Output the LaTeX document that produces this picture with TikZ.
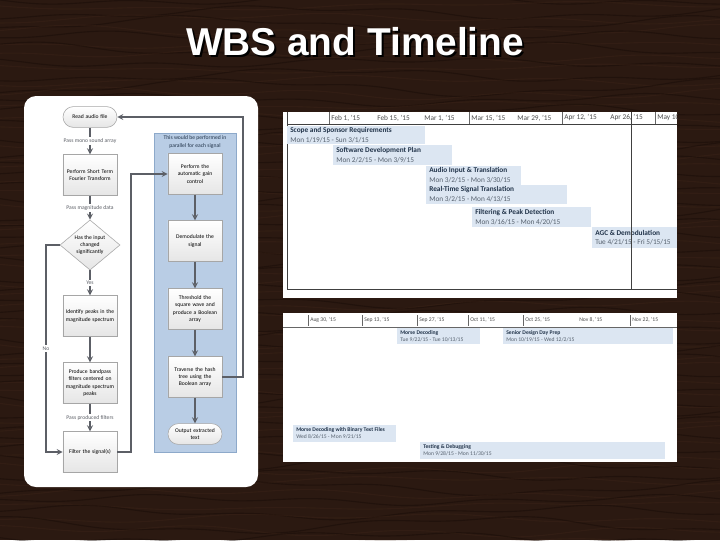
\documentclass[tikz,border=0pt]{standalone}
\usepackage{fontspec}
\setmainfont{Carlito}
\newfontfamily\titlefont{Liberation Sans}
\usetikzlibrary{shapes.geometric}

\definecolor{woodbase}{HTML}{2B1911}
\definecolor{wooddark}{HTML}{160B06}
\definecolor{woodlight}{HTML}{43291B}
\definecolor{panelblue}{HTML}{B9CDE5}
\definecolor{paneledge}{HTML}{8DA9CA}
\definecolor{barblue}{HTML}{DCE6F2}
\definecolor{bartitle}{HTML}{22344A}
\definecolor{bardate}{HTML}{56616E}
\definecolor{flowline}{HTML}{5C5F66}

\newcommand{\flowfont}{\fontsize{4}{5.2}\selectfont}
\newcommand{\ganttfont}{\fontsize{5.2}{7}\selectfont}
\newcommand{\ganttsmall}{\fontsize{4}{4.9}\selectfont}

\begin{document}
\begin{tikzpicture}[x=0.025cm, y=-0.025cm, >=stealth]
  % Styles du diagramme
  \tikzset{
    grain/.style={line width=0.8pt},
    proc/.style={rectangle, draw=black!35, top color=white, bottom color=black!10,
      minimum width=1.35cm, minimum height=1.02cm, text width=1.3cm,
      align=center, inner sep=0.5pt, font=\flowfont},
    term/.style={proc, rounded corners=0.26cm, minimum height=0.52cm},
    dec/.style={diamond, draw=black!35, top color=white, bottom color=black!10,
      minimum width=1.5cm, minimum height=1.2cm, inner sep=0pt,
      align=center, font=\flowfont},
    flow/.style={->, flowline, line width=0.9pt},
    lbl/.style={fill=white, inner sep=1pt, font=\flowfont},
    bar/.style={fill=barblue},
    bartxt/.style={anchor=west, align=left, inner sep=0pt, font=\ganttfont, text=bartitle},
    bartxtsm/.style={bartxt, font=\ganttsmall},
    gdate/.style={anchor=west, inner sep=0pt, font=\ganttfont, text=black!70},
    gdatesm/.style={gdate, font=\ganttsmall},
    gtick/.style={black!60, line width=0.4pt}
  }

  \useasboundingbox (0,0) rectangle (720,540);

  % --- Fond bois ---
  \fill[woodbase] (0,0) rectangle (720,540);
  \begin{scope}
    \clip (0,0) rectangle (720,540);
    \foreach \k in {0,...,44} {
      \pgfmathsetmacro{\yy}{\k*12.5}
      \pgfmathsetmacro{\ph}{mod(\k*67,360)}
      \pgfmathsetmacro{\amp}{3+mod(\k*7,5)}
      \draw[grain, wooddark, opacity=0.45] plot[domain=0:720, samples=37, smooth]
        (\x, {\yy + \amp*sin(0.7*\x+\ph) + 2.5*sin(2.1*\x+2*\ph)});
      \draw[grain, woodlight, opacity=0.3] plot[domain=0:720, samples=37, smooth]
        (\x, {\yy + 6 + 3*sin(0.5*\x+2*\ph) + \amp*0.5*sin(1.7*\x+\ph)});
    }
  \end{scope}

  % Titre
  \node[text=black, font=\titlefont\bfseries\fontsize{27.6}{30}\selectfont] (titleshadow) at (357,44) {WBS and Timeline};
  \node[text=white, font=\titlefont\bfseries\fontsize{27.6}{30}\selectfont] (title) at (355,42) {WBS and Timeline};

  % --- Organigramme ---
  \fill[white, rounded corners=0.3cm] (24,96) rectangle (258,487);
  \fill[panelblue, draw=paneledge, line width=0.6pt] (154,133) rectangle (236,452);
  \node[font=\flowfont, align=center, inner sep=0pt, text=bartitle] (paneltxt) at (195,142)
    {This would be performed in\\parallel for each signal};

  % Colonne principale
  \node[term] (read) at (90,117) {Read audio file};
  \node[proc] (stft) at (90,175) {Perform Short Term\\Fourier Transform};
  \node[dec] (change) at (90,245) {Has the input\\changed\\significantly};
  \node[proc] (peaks) at (90,316) {Identify peaks in the\\magnitude spectrum};
  \node[proc] (bandpass) at (90,383) {Produce bandpass\\filters centered on\\magnitude spectrum\\peaks};
  \node[proc] (filter) at (90,452) {Filter the signal(s)};

  % Colonne en parallèle
  \node[proc] (agc) at (195,174) {Perform the\\automatic gain\\control};
  \node[proc] (demod) at (195,241) {Demodulate the\\signal};
  \node[proc] (thresh) at (195,309) {Threshold the\\square wave and\\produce a Boolean\\array};
  \node[proc] (traverse) at (195,377) {Traverse the hash\\tree using the\\Boolean array};
  \node[term] (output) at (195,434) {Output extracted\\text};

  % Connecteurs
  \draw[flow] (read) -- node[lbl] {Pass mono sound array} (stft);
  \draw[flow] (stft) -- node[lbl] {Pass magnitude data} (change);
  \draw[flow] (change) -- node[lbl] {Yes} (peaks);
  \draw[flow] (peaks) -- (bandpass);
  \draw[flow] (bandpass) -- node[lbl] {Pass produced filters} (filter);

  \coordinate (nobend) at (46,452);
  \draw[flow] (change.west) -| (nobend) node[lbl, pos=0.75] {No} -- (filter.west);

  \coordinate (fwdbend) at (131,174);
  \draw[flow] (filter.east) -| (fwdbend) -- (agc.west);

  \draw[flow] (agc) -- (demod);
  \draw[flow] (demod) -- (thresh);
  \draw[flow] (thresh) -- (traverse);
  \draw[flow] (traverse) -- (output);

  \coordinate (backbend) at (243,117);
  \draw[flow] (traverse.east) -| (backbend) -- (read.east);

  % --- Diagramme de Gantt 1 ---
  \fill[white] (283,112) rectangle (677,298);
  \begin{scope}
    \clip (283,112) rectangle (677,298);
    \draw[black!75, line width=0.5pt] (287,124) -- (677,124);
    \draw[black!75, line width=0.5pt] (287,112) -- (287,289) -- (677,289);
    \foreach \tx in {329,469,562,655}
      \draw[gtick] (\tx,112) -- (\tx,124);

    \node[gdate] (d1) at (331,118) {Feb 1, '15};
    \node[gdate] (d2) at (377,118) {Feb 15, '15};
    \node[gdate] (d3) at (424,118) {Mar 1, '15};
    \node[gdate] (d4) at (471,118) {Mar 15, '15};
    \node[gdate] (d5) at (517,118) {Mar 29, '15};
    \node[gdate] (d6) at (564,118) {Apr 12, '15};
    \node[gdate] (d7) at (610,118) {Apr 26, '15};
    \node[gdate] (d8) at (657,118) {May 10, '15};

    \fill[bar] (287,126) rectangle (425,144);
    \node[bartxt] (scope) at (290,135) {\textbf{Scope and Sponsor Requirements}\\\textcolor{bardate}{Mon 1/19/15 - Sun 3/1/15}};
    \fill[bar] (333,145) rectangle (452,165);
    \node[bartxt] (plan) at (336,155) {\textbf{Software Development Plan}\\\textcolor{bardate}{Mon 2/2/15 - Mon 3/9/15}};
    \fill[bar] (426,166) rectangle (521,185);
    \node[bartxt] (audio) at (429,175.5) {\textbf{Audio Input \& Translation}\\\textcolor{bardate}{Mon 3/2/15 - Mon 3/30/15}};
    \fill[bar] (426,185) rectangle (567,204);
    \node[bartxt] (realtime) at (429,194.5) {\textbf{Real-Time Signal Translation}\\\textcolor{bardate}{Mon 3/2/15 - Mon 4/13/15}};
    \fill[bar] (472,207) rectangle (591,227);
    \node[bartxt] (filtering) at (475,217) {\textbf{Filtering \& Peak Detection}\\\textcolor{bardate}{Mon 3/16/15 - Mon 4/20/15}};
    \fill[bar] (592,227) rectangle (677,248);
    \node[bartxt] (agcdemod) at (595,237.5) {\textbf{AGC \& Demodulation}\\\textcolor{bardate}{Tue 4/21/15 - Fri 5/15/15}};

    % ligne de date courante
    \draw[black!75, line width=0.6pt] (631,112) -- (631,289);
  \end{scope}

  % --- Diagramme de Gantt 2 ---
  \fill[white] (283,313) rectangle (677,462);
  \begin{scope}
    \clip (283,313) rectangle (677,462);
    \draw[black!60, line width=0.5pt] (283,327) -- (677,327);
    \foreach \tx in {308,362,417,468,523,630}
      \draw[gtick] (\tx,315) -- (\tx,326);

    \node[gdatesm] (e1) at (310,320) {Aug 30, '15};
    \node[gdatesm] (e2) at (364,320) {Sep 13, '15};
    \node[gdatesm] (e3) at (419,320) {Sep 27, '15};
    \node[gdatesm] (e4) at (470,320) {Oct 11, '15};
    \node[gdatesm] (e5) at (525,320) {Oct 25, '15};
    \node[gdatesm] (e6) at (579,320) {Nov 8, '15};
    \node[gdatesm] (e7) at (632,320) {Nov 22, '15};

    \fill[bar] (397,328) rectangle (480,344);
    \node[bartxtsm] (morse) at (400,336) {\textbf{Morse Decoding}\\\textcolor{bardate}{Tue 9/22/15 - Tue 10/13/15}};
    \fill[bar] (503,328) rectangle (673,344);
    \node[bartxtsm] (senior) at (506,336) {\textbf{Senior Design Day Prep}\\\textcolor{bardate}{Mon 10/19/15 - Wed 12/2/15}};
    \fill[bar] (293,425) rectangle (396,442);
    \node[bartxtsm] (binary) at (296,433.5) {\textbf{Morse Decoding with Binary Text Files}\\\textcolor{bardate}{Wed 8/26/15 - Mon 9/21/15}};
    \fill[bar] (420,442) rectangle (665,459);
    \node[bartxtsm] (testing) at (423,450.5) {\textbf{Testing \& Debugging}\\\textcolor{bardate}{Mon 9/28/15 - Mon 11/30/15}};
  \end{scope}

\end{tikzpicture}
\end{document}
